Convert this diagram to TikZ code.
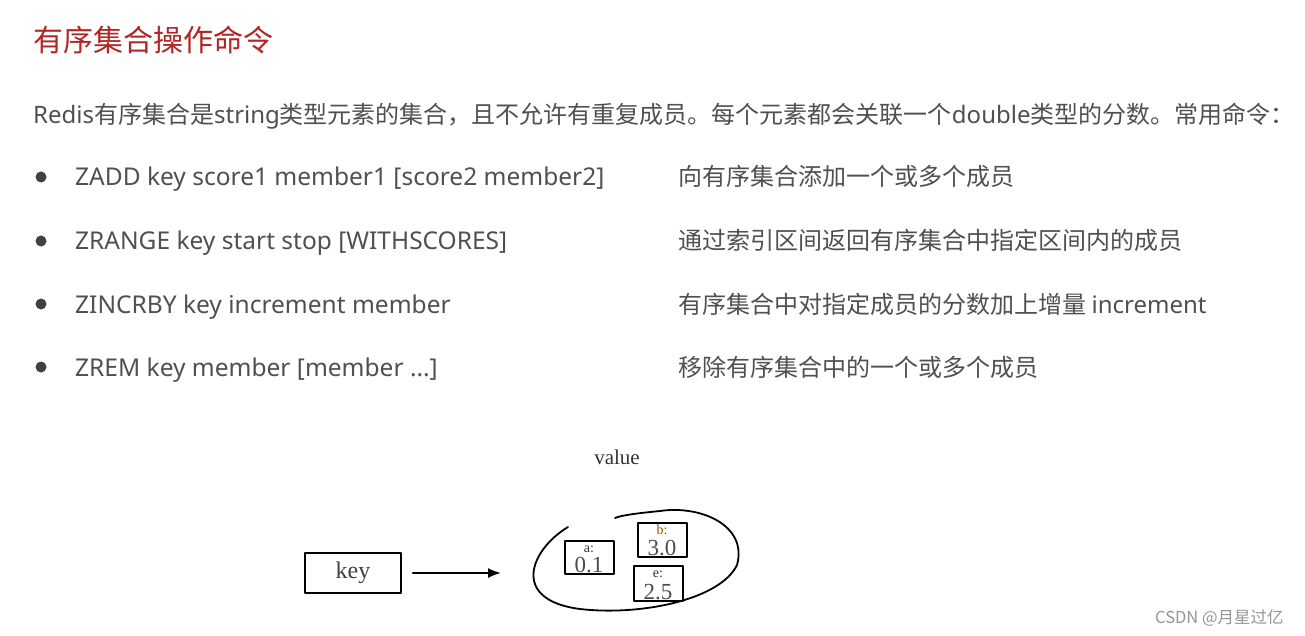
\documentclass[tikz,border=0pt]{standalone}
\usepackage{fontspec}
\setmainfont{Noto Sans CJK SC}
\newfontfamily\lat{Noto Sans}
\newfontfamily\diagserif{Liberation Serif}
\usetikzlibrary{arrows.meta}
\definecolor{titlered}{RGB}{178,38,38}
\definecolor{bodygray}{RGB}{80,80,80}
\definecolor{wmgray}{RGB}{150,150,150}
\tikzset{
  txt/.style={anchor=base west, inner sep=0pt, text=bodygray, font=\fontsize{24}{28}\selectfont},
  ttl/.style={anchor=base west, inner sep=0pt, text=titlered, font=\fontsize{30}{34}\selectfont},
  bul/.style={circle, fill=bodygray!80!black, inner sep=0pt, minimum size=11pt},
  sk/.style={line width=1.8pt, black, line cap=round, line join=round},
  boxlbl/.style={anchor=base, inner sep=0pt, font=\diagserif\fontsize{14}{14}\selectfont, text=black!80},
  boxnum/.style={anchor=base, inner sep=0pt, font=\diagserif\fontsize{23}{23}\selectfont, text=black!70},
}
\begin{document}
\begin{tikzpicture}[x=1pt,y=-1pt]
\useasboundingbox[fill=white] (0,0) rectangle (1305,636);
\node[ttl] (title) at (33,52) {有序集合操作命令};
\node[txt] (intro) at (33,124) {{\lat Redis}有序集合是{\lat string}类型元素的集合，且不允许有重复成员。每个元素都会关联一个{\lat double}类型的分数。常用命令：};
\foreach \i/\cmd/\desc [count=\n] in {
  186/{ZADD key score1 member1 [score2 member2]}/{向有序集合添加一个或多个成员},
  250/{ZRANGE key start stop [WITHSCORES]}/{通过索引区间返回有序集合中指定区间内的成员},
  313/{ZINCRBY key increment member}/{有序集合中对指定成员的分数加上增量 {\lat increment}},
  376/{ZREM key member [member ...]}/{移除有序集合中的一个或多个成员}} {
  \node[bul] (b\n) at (41,\i-9) {};
  \node[txt, font=\lat\fontsize{24.5}{28}\selectfont] (c\n) at (75,\i) {\cmd};
  \node[txt] (d\n) at (678,\i) {\desc};
}
% diagram
\node[inner sep=0pt, font=\diagserif\fontsize{21}{21}\selectfont, text=black!80] (value) at (617,457) {value};
\node[draw, sk, minimum width=96pt, minimum height=40pt, inner sep=0pt,
      font=\diagserif\fontsize{24}{24}\selectfont, text=black!75] (key) at (353,573) {key};
\coordinate (arrE) at (501,573);
\draw[sk, -{Latex[length=13pt,width=10pt]}] (key.east) ++(11,0) coordinate (ks) -- (arrE);
\draw[sk] (568,527) .. controls (530,550) and (510,600) .. (580,609)
  .. controls (640,616) and (720,600) .. (737,565)
  .. controls (748,525) and (700,505) .. (660,511)
  .. controls (640,513) and (622,515) .. (615,518);
\draw[sk, line width=1.5pt] (565,541) rectangle (614,574);
\draw[sk, line width=1.5pt] (638,523) rectangle (687,557);
\draw[sk, line width=1.5pt] (634,566) rectangle (683,601);
\node[boxlbl] (la) at (589,552) {a:};
\node[boxnum] (na) at (589,572) {0.1};
\node[boxlbl, text=orange!60!black] (lb) at (662,534) {b:};
\node[boxnum] (nb) at (662,555) {3.0};
\node[boxlbl] (le) at (658,577) {e:};
\node[boxnum] (ne) at (658,599) {2.5};
\node[anchor=base west, inner sep=0pt, text=wmgray, font=\fontsize{16.5}{17}\selectfont] (wm) at (1155,623) {CSDN @月星过亿};
\end{tikzpicture}
\end{document}
